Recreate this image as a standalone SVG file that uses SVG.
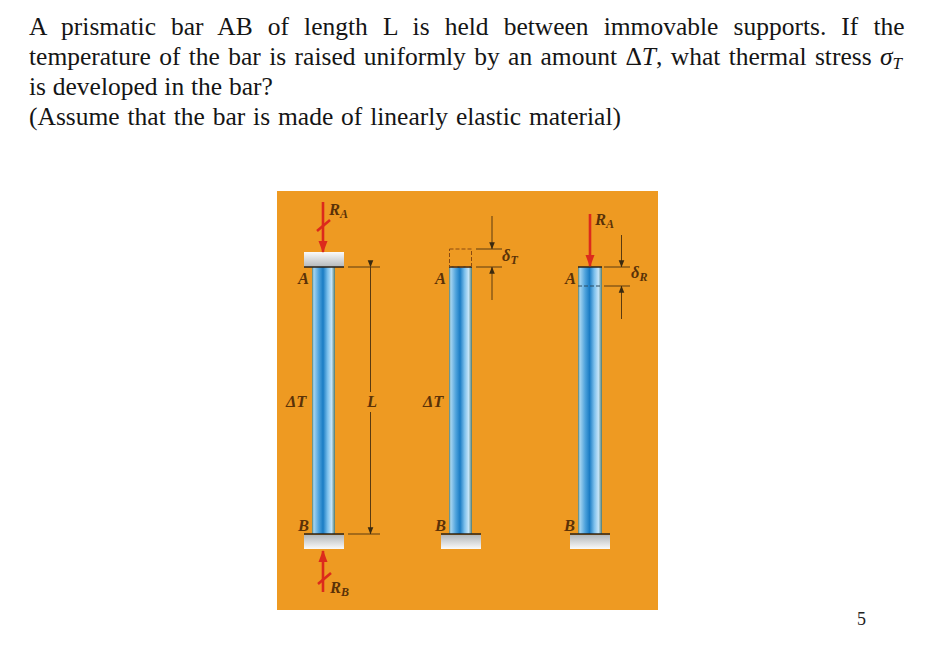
<svg xmlns="http://www.w3.org/2000/svg" width="948" height="646" viewBox="0 0 948 646">
<style>
.t{font:25.5px "Liberation Serif",serif;fill:#151515}
.i{font-style:italic}
.l{font:italic bold 16.5px "Liberation Serif",serif;fill:#5a3208}
.s{font-size:12px}
.d{stroke:#5a3a10;stroke-width:1;fill:none}
.f{stroke:#8a4a10;stroke-width:1;fill:none;stroke-dasharray:4 2}
.r{stroke:#dc2a1c;stroke-width:2.600;fill:none}
.k{stroke:#2a2218;stroke-width:1.400}
</style>
<defs>
<linearGradient id="bar" x1="0" x2="1" y1="0" y2="0">
<stop offset="0" stop-color="#55806f"/><stop offset=".08" stop-color="#a5d4f0"/><stop offset=".3" stop-color="#4da2dc"/><stop offset=".48" stop-color="#1a7cc4"/><stop offset=".68" stop-color="#7cc0ec"/><stop offset=".85" stop-color="#c4e4f8"/><stop offset="1" stop-color="#4f7a70"/>
</linearGradient>
<linearGradient id="top" x1="0" x2="0" y1="0" y2="1"><stop offset="0" stop-color="#fafafa"/><stop offset="1" stop-color="#b4b8ba"/></linearGradient>
<linearGradient id="bot" x1="0" x2="0" y1="0" y2="1"><stop offset="0" stop-color="#b4b8ba"/><stop offset="1" stop-color="#fafafa"/></linearGradient>
<marker id="ar" viewBox="0 0 12 10" refX="11" refY="5" markerWidth="13" markerHeight="10" markerUnits="userSpaceOnUse" orient="auto"><path d="M0 0.500L12 5L0 9.500Z" fill="#dc2a1c"/></marker>
<marker id="ad" viewBox="0 0 10 10" refX="9.500" refY="5" markerWidth="7" markerHeight="7" markerUnits="userSpaceOnUse" orient="auto"><path d="M0 1L10 5L0 9Z" fill="#3a2a10"/></marker>
</defs>
<rect width="948" height="646" fill="#fff"/>
<g id="question">
<text class="t" x="29" y="35" word-spacing="8.700">A prismatic bar AB of length L is held between immovable supports. If the</text>
<text class="t" x="29" y="65" word-spacing="2">temperature of the bar is raised uniformly by an amount Δ<tspan class="i">T</tspan>, what thermal stress <tspan class="i">σ</tspan><tspan class="i" font-size="17" dy="4">T</tspan></text>
<text class="t" x="29" y="95" word-spacing="0.400">is developed in the bar?</text>
<text class="t" x="29" y="125" word-spacing="1.500">(Assume that the bar is made of linearly elastic material)</text>
</g>
<rect id="panel" x="277" y="191" width="381" height="419" fill="#ee9a22"/>
<g id="bar-left">
<rect x="312" y="267" width="23" height="267" fill="url(#bar)"/>
<rect x="304" y="252" width="40" height="15" fill="url(#top)"/>
<rect x="304" y="535" width="40" height="14" fill="url(#bot)"/>
<path class="k" d="M304 267H344M304 534H344"/>
<text class="l" x="298" y="284">A</text><text class="l" x="298" y="531">B</text>
<text class="l" x="286" y="407">ΔT</text>
<text class="l" x="367" y="407">L</text>
<text class="l" x="329" y="215">R<tspan class="s" dy="3">A</tspan></text>
<text class="l" x="330" y="593">R<tspan class="s" dy="3">B</tspan></text>
</g>
<g id="bar-middle">
<rect x="449" y="267" width="23" height="267" fill="url(#bar)"/>
<rect x="441" y="535" width="40" height="14" fill="url(#bot)"/>
<path class="k" d="M449 267H472M441 534H481"/>
<rect class="f" x="449.500" y="249" width="22" height="18"/>
<text class="l" x="435" y="284">A</text><text class="l" x="435" y="531">B</text>
<text class="l" x="423" y="407">ΔT</text>
<text class="l" x="502" y="261">δ<tspan class="s" dy="3">T</tspan></text>
</g>
<g id="bar-right">
<rect x="578" y="267" width="24" height="267" fill="url(#bar)"/>
<rect x="570" y="535" width="40" height="14" fill="url(#bot)"/>
<path class="k" d="M578 267H602M570 534H610"/>
<path d="M578 286H602" stroke="#2a4a60" stroke-width="1" stroke-dasharray="4 2"/>
<text class="l" x="565" y="284">A</text><text class="l" x="564" y="531">B</text>
<text class="l" x="595" y="225">R<tspan class="s" dy="3">A</tspan></text>
<text class="l" x="631" y="278">δ<tspan class="s" dy="3">R</tspan></text>
</g>
<g id="connectors">
<path class="r" d="M323 202V252" marker-end="url(#ar)"/>
<path class="r" d="M317 231L330 220"/>
<path class="r" d="M323 592V551" marker-end="url(#ar)"/>
<path class="r" d="M318 584L331 573"/>
<path class="r" d="M590 214V266" marker-end="url(#ar)" stroke-width="3"/>
<path class="d" d="M348 267H380M348 534H380"/>
<path class="d" d="M370.500 267V392" marker-start="url(#ad)"/>
<path class="d" d="M370.500 412V534" marker-end="url(#ad)"/>
<path class="d" d="M476 249H502M476 267H502"/>
<path class="d" d="M492 216V249" marker-end="url(#ad)"/>
<path class="d" d="M492 300V267" marker-end="url(#ad)"/>
<path class="d" d="M604 267H630M604 286H630"/>
<path class="d" d="M621.500 235V267" marker-end="url(#ad)"/>
<path class="d" d="M621.500 319V286" marker-end="url(#ad)"/>
</g>
<text id="page" x="857" y="625" font-family="Liberation Serif, serif" font-size="18" fill="#222">5</text>
</svg>
